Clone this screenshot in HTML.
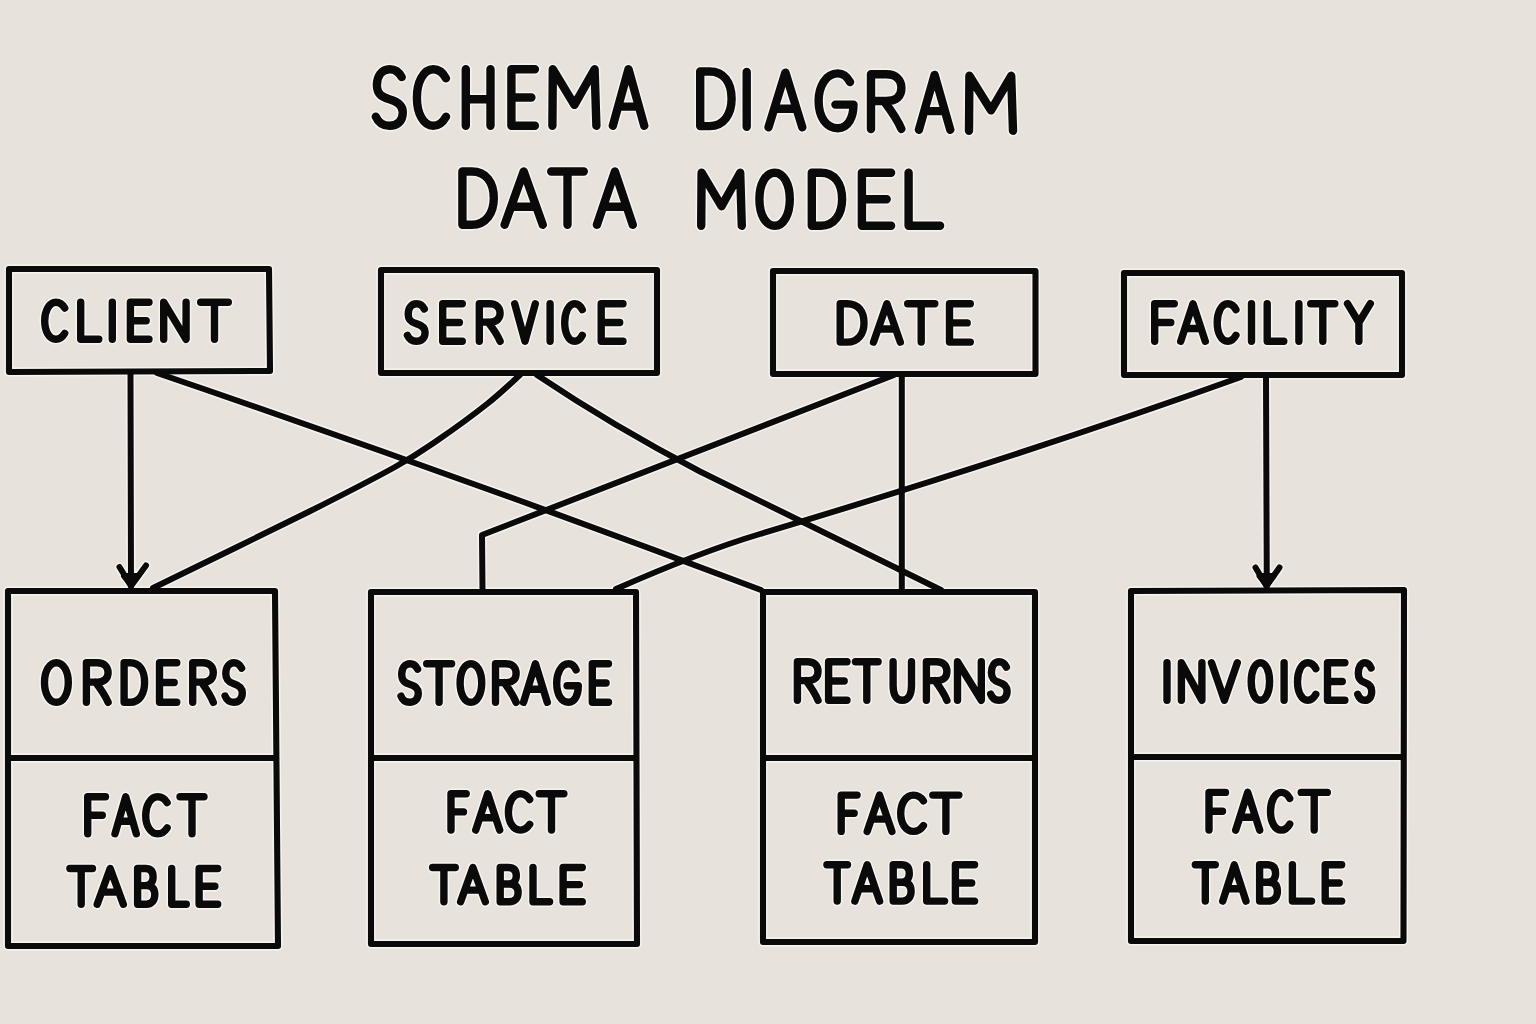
<!DOCTYPE html>
<html><head><meta charset="utf-8">
<style>
html,body{margin:0;padding:0;background:#e7e2db;}
body{width:1536px;height:1024px;overflow:hidden;font-family:"Liberation Sans",sans-serif;}
svg{display:block;}
.g{fill:none;stroke:#0a0a0a;stroke-linejoin:round;stroke-linecap:round;}
.b{fill:none;stroke:#0a0a0a;stroke-width:6;stroke-linejoin:round;stroke-linecap:round;}
.l{fill:none;stroke:#0a0a0a;stroke-width:6;stroke-linejoin:round;stroke-linecap:round;}
</style></head>
<body>
<svg width="1536" height="1024" viewBox="0 0 1536 1024">
<rect width="1536" height="1024" fill="#e7e2db"/>
<g id="halo">
<!-- top boxes -->
<path class="b" style="stroke:#f8f5f0;stroke-width:9.1" d="M9 269 L269 269 L270 371 L9 372 Z"/>
<path class="b" style="stroke:#f8f5f0;stroke-width:9.1" d="M381 270 L657 270 L657 373 L381 373 Z"/>
<path class="b" style="stroke:#f8f5f0;stroke-width:9.1" d="M773 271 L1035.5 271 L1035.5 374 L773 374 Z"/>
<path class="b" style="stroke:#f8f5f0;stroke-width:9.1" d="M1124 273 L1402 273 L1402 375 L1124 375 Z"/>
<!-- bottom boxes -->
<path class="b" style="stroke:#f8f5f0;stroke-width:9.1" d="M8 591 L275 591 L278 946 L8 946 Z M8 758 L275 758"/>
<path class="b" style="stroke:#f8f5f0;stroke-width:9.1" d="M371 592 L636 592 L637 944 L371 944 Z M371 758 L636.5 758"/>
<path class="b" style="stroke:#f8f5f0;stroke-width:9.1" d="M763 592 L1035 592 L1035 942 L763 942 Z M763 758 L1035 758"/>
<path class="b" style="stroke:#f8f5f0;stroke-width:9.1" d="M1131 591 L1404 590 L1403.5 941 L1131 941 Z M1131 757 L1403.5 757"/>
<!-- connectors -->
<path class="l" style="stroke:#f8f5f0;stroke-width:9" d="M130.5 375 L131 586"/>
<path class="l" style="stroke:#f8f5f0;stroke-width:9" d="M119.5 567 L131 586 L146 565.5"/>
<path class="l" style="stroke:#f8f5f0;stroke-width:9" d="M124 576 L138 576 L131 585 Z"/>
<path class="l" style="stroke:#f8f5f0;stroke-width:9" d="M157 373 Q459 476 761 590"/>
<path class="l" style="stroke:#f8f5f0;stroke-width:9" d="M520.0 375.0 C514.5 379.8 500.6 393.2 487.0 404.0 C473.4 414.8 453.9 429.0 438.6 439.5 C423.3 450.0 416.6 455.0 395.0 467.0 C373.4 479.0 349.6 491.3 309.3 511.5 C269.0 531.7 179.1 575.2 153.0 588.0"/>
<path class="l" style="stroke:#f8f5f0;stroke-width:9" d="M537 375 Q613 426 700 471.5 L941 590"/>
<path class="l" style="stroke:#f8f5f0;stroke-width:9" d="M894 375 L482 535 L482.5 591"/>
<path class="l" style="stroke:#f8f5f0;stroke-width:9" d="M901.8 375 L901.8 590"/>
<path class="l" style="stroke:#f8f5f0;stroke-width:9" d="M1241 377 Q1029.3 453.2 760 534 Q700 552 616 589"/>
<path class="l" style="stroke:#f8f5f0;stroke-width:9" d="M1266 378 L1266.8 586"/>
<path class="l" style="stroke:#f8f5f0;stroke-width:9" d="M1255.5 567.5 L1266.5 586 L1279.5 567.5"/>
<path class="l" style="stroke:#f8f5f0;stroke-width:9" d="M1259.5 576 L1273.5 576 L1266.5 585 Z"/>

<path class="g" style="stroke:#f8f5f0;stroke-width:11.4" d="M 401.7,77.1 C 398.5,70.9 394.7,69.2 389.8,69.2 C 381.7,69.2 376.9,76.0 376.9,85.0 C 376.9,95.2 383.4,97.5 389.3,99.2 C 397.4,101.5 402.8,105.4 402.8,112.2 C 402.8,121.3 397.4,125.8 389.3,125.8 C 383.4,125.8 378.5,123.0 375.8,116.7 M 446.0,78.3 C 442.5,71.5 437.9,69.2 433.2,69.2 C 423.3,69.2 416.9,82.8 416.9,97.5 C 416.9,113.3 423.3,125.8 433.2,125.8 C 438.4,125.8 442.5,123.0 446.0,116.7 M 465.8,69.2 L 465.8,125.8 M 490.5,69.2 L 490.5,125.8 M 465.8,99.2 L 490.5,99.2 M 534.9,69.2 L 511.4,69.2 L 511.4,125.8 L 534.9,125.8 M 511.4,97.5 L 531.4,97.5 M 552.4,125.8 L 552.8,69.2 L 574.4,104.9 L 594.6,69.2 L 596.4,125.8 M 612.8,125.8 L 628.5,69.2 L 644.3,125.8 M 619.1,106.6 L 638.0,106.6"/>
<path class="g" style="stroke:#f8f5f0;stroke-width:11.4" d="M 700.2,71.5 L 700.2,126.1 L 709.6,126.1 C 723.8,126.1 731.6,114.1 731.6,98.8 C 731.6,82.4 723.8,71.5 709.6,71.5 L 700.2,71.5 M 746.7,72.0 L 746.7,126.7 M 768.5,127.3 L 785.4,72.6 L 802.3,127.3 M 775.3,108.7 L 795.5,108.7 M 850.0,82.1 C 846.5,75.6 842.3,73.4 837.8,73.4 C 825.6,73.4 818.6,87.1 818.6,100.8 C 818.6,117.2 826.3,128.2 837.8,128.2 C 848.3,128.2 853.5,117.2 853.5,104.6 L 835.4,104.6 M 871.0,129.0 L 871.0,74.2 L 886.2,74.2 C 896.8,74.2 901.4,80.7 901.4,87.9 C 901.4,96.1 896.8,101.0 886.2,101.0 L 871.0,101.0 M 883.8,101.0 C 889.2,108.2 896.8,118.0 901.4,129.0 M 918.9,129.8 L 934.6,74.9 L 950.3,129.8 M 925.2,111.1 L 944.0,111.1 M 969.0,130.8 L 969.4,75.8 L 991.0,110.4 L 1011.2,75.8 L 1013.0,130.8"/>
<path class="g" style="stroke:#f8f5f0;stroke-width:11.4" d="M 462.4,171.5 L 462.4,224.8 L 471.8,224.8 C 485.9,224.8 493.8,213.1 493.8,198.2 C 493.8,182.2 485.9,171.5 471.8,171.5 L 462.4,171.5 M 504.6,224.8 L 523.7,171.5 L 542.8,224.8 M 512.2,206.7 L 535.2,206.7 M 551.2,171.5 L 583.8,171.5 M 567.5,171.5 L 567.5,224.8 M 596.9,224.8 L 614.9,171.5 L 632.8,224.8 M 604.1,206.7 L 625.6,206.7"/>
<path class="g" style="stroke:#f8f5f0;stroke-width:11.4" d="M 701.2,225.8 L 701.6,172.7 L 721.5,206.2 L 740.2,172.7 L 741.8,225.8 M 774.6,172.7 C 783.7,172.7 789.8,184.4 789.8,199.2 C 789.8,214.1 783.7,225.8 774.6,225.8 C 765.5,225.8 759.4,214.1 759.4,199.2 C 759.4,184.4 765.5,172.7 774.6,172.7 Z M 811.8,172.7 L 811.8,225.8 L 820.9,225.8 C 834.5,225.8 842.1,214.1 842.1,199.2 C 842.1,183.3 834.5,172.7 820.9,172.7 L 811.8,172.7 M 891.1,172.7 L 861.9,172.7 L 861.9,225.8 L 891.1,225.8 M 861.9,199.2 L 886.7,199.2 M 908.6,172.7 L 908.6,225.8 L 940.1,225.8"/>
<path class="g" style="stroke:#f8f5f0;stroke-width:10.4" d="M 64.7,308.1 C 62.3,303.7 59.1,302.2 55.9,302.2 C 49.1,302.2 44.7,311.1 44.7,320.8 C 44.7,331.1 49.1,339.3 55.9,339.3 C 59.5,339.3 62.3,337.4 64.7,333.4 M 80.7,302.2 L 80.7,339.3 L 98.8,339.3 M 112.3,302.2 L 112.3,339.3 M 149.0,302.2 L 130.4,302.2 L 130.4,339.3 L 149.0,339.3 M 130.4,320.8 L 146.2,320.8 M 163.7,339.3 L 163.7,302.2 L 186.1,339.3 L 186.1,302.2 M 200.7,302.2 L 228.3,302.2 M 214.5,302.2 L 214.5,339.3"/>
<path class="g" style="stroke:#f8f5f0;stroke-width:10.4" d="M 424.3,309.0 C 422.2,304.8 419.8,303.7 416.6,303.7 C 411.3,303.7 408.2,308.2 408.2,314.2 C 408.2,321.0 412.4,322.5 416.2,323.6 C 421.5,325.1 425.1,327.8 425.1,332.3 C 425.1,338.3 421.5,341.3 416.2,341.3 C 412.4,341.3 409.2,339.4 407.4,335.3 M 462.3,303.7 L 442.7,303.7 L 442.7,341.3 L 462.3,341.3 M 442.7,322.5 L 459.4,322.5 M 479.3,341.3 L 479.3,303.7 L 489.7,303.7 C 496.9,303.7 500.1,308.2 500.1,313.1 C 500.1,318.7 496.9,322.1 489.7,322.1 L 479.3,322.1 M 488.0,322.1 C 491.8,327.0 496.9,333.8 500.1,341.3 M 514.7,303.7 L 525.0,341.3 L 535.3,303.7 M 550.1,303.7 L 550.1,341.3 M 582.3,309.7 C 580.2,305.2 577.4,303.7 574.6,303.7 C 568.6,303.7 564.7,312.7 564.7,322.5 C 564.7,333.0 568.6,341.3 574.6,341.3 C 577.7,341.3 580.2,339.4 582.3,335.3 M 623.0,303.7 L 601.2,303.7 L 601.2,341.3 L 623.0,341.3 M 601.2,322.5 L 619.7,322.5"/>
<path class="g" style="stroke:#f8f5f0;stroke-width:10.4" d="M 840.2,303.7 L 840.2,342.1 L 847.3,342.1 C 858.0,342.1 864.0,333.7 864.0,322.9 C 864.0,311.4 858.0,303.7 847.3,303.7 L 840.2,303.7 M 873.5,342.1 L 886.9,303.7 L 900.3,342.1 M 878.9,329.0 L 894.9,329.0 M 907.7,303.7 L 934.8,303.7 M 921.2,303.7 L 921.2,342.1 M 970.3,303.7 L 949.5,303.7 L 949.5,342.1 L 970.3,342.1 M 949.5,322.9 L 967.2,322.9"/>
<path class="g" style="stroke:#f8f5f0;stroke-width:10.4" d="M 1174.3,303.7 L 1154.7,303.7 L 1154.7,341.3 M 1154.7,322.5 L 1170.8,322.5 M 1180.7,341.3 L 1193.0,303.7 L 1205.3,341.3 M 1185.6,328.5 L 1200.4,328.5 M 1235.9,309.7 C 1233.7,305.2 1230.7,303.7 1227.7,303.7 C 1221.3,303.7 1217.2,312.7 1217.2,322.5 C 1217.2,333.0 1221.3,341.3 1227.7,341.3 C 1231.0,341.3 1233.7,339.4 1235.9,335.3 M 1251.5,303.7 L 1251.5,341.3 M 1267.2,303.7 L 1267.2,341.3 L 1283.8,341.3 M 1298.9,303.7 L 1298.9,341.3 M 1310.7,303.7 L 1334.8,303.7 M 1322.8,303.7 L 1322.8,341.3 M 1347.5,303.7 L 1358.9,322.5 L 1370.3,303.7 M 1358.9,322.5 L 1358.9,341.3"/>
<path class="g" style="stroke:#f8f5f0;stroke-width:10.4" d="M 56.4,662.7 C 63.5,662.7 68.3,671.4 68.3,682.5 C 68.3,693.6 63.5,702.3 56.4,702.3 C 49.3,702.3 44.5,693.6 44.5,682.5 C 44.5,671.4 49.3,662.7 56.4,662.7 Z M 86.4,702.3 L 86.4,662.7 L 97.2,662.7 C 104.8,662.7 108.1,667.5 108.1,672.6 C 108.1,678.5 104.8,682.1 97.2,682.1 L 86.4,682.1 M 95.5,682.1 C 99.4,687.3 104.8,694.4 108.1,702.3 M 124.1,662.7 L 124.1,702.3 L 130.2,702.3 C 139.5,702.3 144.6,693.6 144.6,682.5 C 144.6,670.6 139.5,662.7 130.2,662.7 L 124.1,662.7 M 176.8,662.7 L 159.5,662.7 L 159.5,702.3 L 176.8,702.3 M 159.5,682.5 L 174.2,682.5 M 192.7,702.3 L 192.7,662.7 L 203.0,662.7 C 210.2,662.7 213.3,667.5 213.3,672.6 C 213.3,678.5 210.2,682.1 203.0,682.1 L 192.7,682.1 M 201.4,682.1 C 205.1,687.3 210.2,694.4 213.3,702.3 M 241.6,668.2 C 239.5,663.9 237.1,662.7 234.0,662.7 C 228.9,662.7 225.8,667.5 225.8,673.8 C 225.8,680.9 229.9,682.5 233.7,683.7 C 238.9,685.3 242.3,688.0 242.3,692.8 C 242.3,699.1 238.9,702.3 233.7,702.3 C 229.9,702.3 226.8,700.3 225.1,696.0"/>
<path class="g" style="stroke:#f8f5f0;stroke-width:10.4" d="M 417.6,669.1 C 415.5,664.9 413.1,663.7 410.0,663.7 C 404.8,663.7 401.7,668.3 401.7,674.5 C 401.7,681.5 405.8,683.0 409.6,684.2 C 414.8,685.7 418.3,688.4 418.3,693.0 C 418.3,699.2 414.8,702.3 409.6,702.3 C 405.8,702.3 402.7,700.4 401.0,696.1 M 426.7,663.7 L 451.6,663.7 M 439.1,663.7 L 439.1,702.3 M 470.9,663.7 C 477.4,663.7 481.7,672.2 481.7,683.0 C 481.7,693.8 477.4,702.3 470.9,702.3 C 464.4,702.3 460.1,693.8 460.1,683.0 C 460.1,672.2 464.4,663.7 470.9,663.7 Z M 495.5,702.3 L 495.5,663.7 L 505.8,663.7 C 513.0,663.7 516.1,668.3 516.1,673.4 C 516.1,679.1 513.0,682.6 505.8,682.6 L 495.5,682.6 M 504.2,682.6 C 507.9,687.6 513.0,694.6 516.1,702.3 M 523.5,702.3 L 535.4,663.7 L 547.3,702.3 M 528.3,689.2 L 542.5,689.2 M 576.1,669.9 C 574.0,665.2 571.4,663.7 568.6,663.7 C 561.0,663.7 556.7,673.4 556.7,683.0 C 556.7,694.6 561.5,702.3 568.6,702.3 C 575.1,702.3 578.3,694.6 578.3,685.7 L 567.1,685.7 M 608.5,663.7 L 592.3,663.7 L 592.3,702.3 L 608.5,702.3 M 592.3,683.0 L 606.1,683.0"/>
<path class="g" style="stroke:#f8f5f0;stroke-width:10.4" d="M 797.4,700.3 L 797.4,661.7 L 807.7,661.7 C 814.9,661.7 818.0,666.3 818.0,671.4 C 818.0,677.1 814.9,680.6 807.7,680.6 L 797.4,680.6 M 806.1,680.6 C 809.8,685.6 814.9,692.6 818.0,700.3 M 847.0,661.7 L 828.6,661.7 L 828.6,700.3 L 847.0,700.3 M 828.6,681.0 L 844.2,681.0 M 855.5,661.7 L 878.1,661.7 M 866.8,661.7 L 866.8,700.3 M 893.1,661.7 L 893.1,685.6 C 893.1,695.7 896.8,700.3 902.3,700.3 C 907.8,700.3 911.5,695.7 911.5,685.6 L 911.5,661.7 M 926.4,700.3 L 926.4,661.7 L 936.7,661.7 C 943.8,661.7 946.9,666.3 946.9,671.4 C 946.9,677.1 943.8,680.6 936.7,680.6 L 926.4,680.6 M 935.0,680.6 C 938.7,685.6 943.8,692.6 946.9,700.3 M 957.5,700.3 L 957.5,661.7 L 981.3,700.3 L 981.3,661.7 M 1006.4,667.1 C 1004.5,662.9 1002.2,661.7 999.2,661.7 C 994.3,661.7 991.4,666.3 991.4,672.5 C 991.4,679.5 995.3,681.0 998.9,682.2 C 1003.8,683.7 1007.1,686.4 1007.1,691.0 C 1007.1,697.2 1003.8,700.3 998.9,700.3 C 995.3,700.3 992.3,698.4 990.7,694.1"/>
<path class="g" style="stroke:#f8f5f0;stroke-width:10.4" d="M 1167.0,662.7 L 1167.0,700.3 M 1181.4,700.3 L 1181.4,662.7 L 1201.9,700.3 L 1201.9,662.7 M 1211.5,662.7 L 1224.4,700.3 L 1237.3,662.7 M 1260.4,662.7 C 1265.9,662.7 1269.6,671.0 1269.6,681.5 C 1269.6,692.0 1265.9,700.3 1260.4,700.3 C 1254.9,700.3 1251.2,692.0 1251.2,681.5 C 1251.2,671.0 1254.9,662.7 1260.4,662.7 Z M 1284.1,662.7 L 1284.1,700.3 M 1315.8,668.7 C 1313.6,664.2 1310.7,662.7 1307.7,662.7 C 1301.5,662.7 1297.5,671.7 1297.5,681.5 C 1297.5,692.0 1301.5,700.3 1307.7,700.3 C 1311.0,700.3 1313.6,698.4 1315.8,694.3 M 1344.9,662.7 L 1327.5,662.7 L 1327.5,700.3 L 1344.9,700.3 M 1327.5,681.5 L 1342.3,681.5 M 1371.1,668.0 C 1369.5,663.8 1367.5,662.7 1365.0,662.7 C 1360.8,662.7 1358.3,667.2 1358.3,673.2 C 1358.3,680.0 1361.6,681.5 1364.7,682.6 C 1368.9,684.1 1371.7,686.8 1371.7,691.3 C 1371.7,697.3 1368.9,700.3 1364.7,700.3 C 1361.6,700.3 1359.1,698.4 1357.7,694.3"/>
<path class="g" style="stroke:#f8f5f0;stroke-width:10.4" d="M 105.5,796.7 L 87.7,796.7 L 87.7,833.8 M 87.7,815.2 L 102.3,815.2 M 115.0,833.8 L 125.7,796.7 L 136.3,833.8 M 119.3,821.2 L 132.0,821.2 M 167.1,802.6 C 164.5,798.2 161.1,796.7 157.7,796.7 C 150.4,796.7 145.7,805.6 145.7,815.2 C 145.7,825.6 150.4,833.8 157.7,833.8 C 161.5,833.8 164.5,831.9 167.1,827.9 M 180.0,796.7 L 204.0,796.7 M 192.0,796.7 L 192.0,833.8"/>
<path class="g" style="stroke:#f8f5f0;stroke-width:10.4" d="M 69.9,868.5 L 92.5,868.5 M 81.2,868.5 L 81.2,904.2 M 97.2,904.2 L 110.2,868.5 L 123.3,904.2 M 102.4,892.1 L 118.1,892.1 M 137.6,868.5 L 137.6,904.2 L 146.2,904.2 C 152.2,904.2 154.8,899.9 154.8,894.6 C 154.8,888.8 152.2,885.6 146.2,885.6 L 137.6,885.6 M 145.3,885.6 C 150.5,885.6 153.1,882.1 153.1,877.1 C 153.1,871.4 150.5,868.5 145.3,868.5 L 137.6,868.5 M 171.7,868.5 L 171.7,904.2 L 186.3,904.2 M 217.7,868.5 L 199.1,868.5 L 199.1,904.2 L 217.7,904.2 M 199.1,886.3 L 214.9,886.3"/>
<path class="g" style="stroke:#f8f5f0;stroke-width:10.4" d="M 466.2,793.7 L 451.0,793.7 L 451.0,830.1 M 451.0,811.9 L 463.5,811.9 M 475.7,830.1 L 487.7,793.7 L 499.7,830.1 M 480.5,817.7 L 494.9,817.7 M 529.7,799.5 C 527.1,795.2 523.7,793.7 520.3,793.7 C 513.1,793.7 508.4,802.4 508.4,811.9 C 508.4,822.1 513.1,830.1 520.3,830.1 C 524.2,830.1 527.1,828.3 529.7,824.3 M 539.2,793.7 L 563.9,793.7 M 551.5,793.7 L 551.5,830.1"/>
<path class="g" style="stroke:#f8f5f0;stroke-width:10.4" d="M 432.6,867.5 L 455.3,867.5 M 443.9,867.5 L 443.9,901.8 M 460.6,901.8 L 472.9,867.5 L 485.3,901.8 M 465.5,890.1 L 480.4,890.1 M 500.2,867.5 L 500.2,901.8 L 509.1,901.8 C 515.4,901.8 518.1,897.7 518.1,892.5 C 518.1,887.1 515.4,884.0 509.1,884.0 L 500.2,884.0 M 508.3,884.0 C 513.6,884.0 516.3,880.5 516.3,875.7 C 516.3,870.2 513.6,867.5 508.3,867.5 L 500.2,867.5 M 533.0,867.5 L 533.0,901.8 L 549.6,901.8 M 582.3,867.5 L 563.1,867.5 L 563.1,901.8 L 582.3,901.8 M 563.1,884.6 L 579.4,884.6"/>
<path class="g" style="stroke:#f8f5f0;stroke-width:10.4" d="M 857.1,795.1 L 841.2,795.1 L 841.2,831.4 M 841.2,813.2 L 854.2,813.2 M 867.2,831.4 L 879.5,795.1 L 891.9,831.4 M 872.1,819.1 L 887.0,819.1 M 923.4,800.9 C 920.7,796.6 917.0,795.1 913.4,795.1 C 905.7,795.1 900.7,803.8 900.7,813.2 C 900.7,823.4 905.7,831.4 913.4,831.4 C 917.5,831.4 920.7,829.6 923.4,825.6 M 932.8,795.1 L 958.9,795.1 M 945.9,795.1 L 945.9,831.4"/>
<path class="g" style="stroke:#f8f5f0;stroke-width:10.4" d="M 826.9,864.8 L 847.5,864.8 M 837.2,864.8 L 837.2,901.1 M 854.9,901.1 L 867.2,864.8 L 879.6,901.1 M 859.8,888.8 L 874.7,888.8 M 893.2,864.8 L 893.2,901.1 L 902.1,901.1 C 908.4,901.1 911.1,896.7 911.1,891.3 C 911.1,885.5 908.4,882.2 902.1,882.2 L 893.2,882.2 M 901.3,882.2 C 906.6,882.2 909.3,878.6 909.3,873.5 C 909.3,867.7 906.6,864.8 901.3,864.8 L 893.2,864.8 M 926.7,864.8 L 926.7,901.1 L 944.6,901.1 M 974.6,864.8 L 955.4,864.8 L 955.4,901.1 L 974.6,901.1 M 955.4,883.0 L 971.7,883.0"/>
<path class="g" style="stroke:#f8f5f0;stroke-width:10.4" d="M 1225.5,792.4 L 1209.0,792.4 L 1209.0,830.1 M 1209.0,811.2 L 1222.5,811.2 M 1235.7,830.1 L 1247.7,792.4 L 1259.7,830.1 M 1240.5,817.3 L 1254.9,817.3 M 1289.7,798.4 C 1287.4,793.9 1284.3,792.4 1281.3,792.4 C 1274.7,792.4 1270.5,801.4 1270.5,811.2 C 1270.5,821.8 1274.7,830.1 1281.3,830.1 C 1284.7,830.1 1287.4,828.2 1289.7,824.1 M 1301.2,792.4 L 1327.3,792.4 M 1314.2,792.4 L 1314.2,830.1"/>
<path class="g" style="stroke:#f8f5f0;stroke-width:10.4" d="M 1195.3,864.8 L 1215.3,864.8 M 1205.3,864.8 L 1205.3,901.1 M 1222.7,901.1 L 1234.3,864.8 L 1246.0,901.1 M 1227.4,888.8 L 1241.3,888.8 M 1259.6,864.8 L 1259.6,901.1 L 1268.5,901.1 C 1274.7,901.1 1277.4,896.7 1277.4,891.3 C 1277.4,885.5 1274.7,882.2 1268.5,882.2 L 1259.6,882.2 M 1267.6,882.2 C 1272.9,882.2 1275.6,878.6 1275.6,873.5 C 1275.6,867.7 1272.9,864.8 1267.6,864.8 L 1259.6,864.8 M 1292.4,864.8 L 1292.4,901.1 L 1311.6,901.1 M 1341.7,864.8 L 1325.2,864.8 L 1325.2,901.1 L 1341.7,901.1 M 1325.2,883.0 L 1339.2,883.0"/>
</g>
<g id="main">
<!-- top boxes -->
<path class="b" style="stroke:#0a0a0a;stroke-width:6.1" d="M9 269 L269 269 L270 371 L9 372 Z"/>
<path class="b" style="stroke:#0a0a0a;stroke-width:6.1" d="M381 270 L657 270 L657 373 L381 373 Z"/>
<path class="b" style="stroke:#0a0a0a;stroke-width:6.1" d="M773 271 L1035.5 271 L1035.5 374 L773 374 Z"/>
<path class="b" style="stroke:#0a0a0a;stroke-width:6.1" d="M1124 273 L1402 273 L1402 375 L1124 375 Z"/>
<!-- bottom boxes -->
<path class="b" style="stroke:#0a0a0a;stroke-width:6.1" d="M8 591 L275 591 L278 946 L8 946 Z M8 758 L275 758"/>
<path class="b" style="stroke:#0a0a0a;stroke-width:6.1" d="M371 592 L636 592 L637 944 L371 944 Z M371 758 L636.5 758"/>
<path class="b" style="stroke:#0a0a0a;stroke-width:6.1" d="M763 592 L1035 592 L1035 942 L763 942 Z M763 758 L1035 758"/>
<path class="b" style="stroke:#0a0a0a;stroke-width:6.1" d="M1131 591 L1404 590 L1403.5 941 L1131 941 Z M1131 757 L1403.5 757"/>
<!-- connectors -->
<path class="l" style="stroke:#0a0a0a;stroke-width:6" d="M130.5 375 L131 586"/>
<path class="l" style="stroke:#0a0a0a;stroke-width:6" d="M119.5 567 L131 586 L146 565.5"/>
<path class="l" style="stroke:#0a0a0a;stroke-width:6" d="M124 576 L138 576 L131 585 Z"/>
<path class="l" style="stroke:#0a0a0a;stroke-width:6" d="M157 373 Q459 476 761 590"/>
<path class="l" style="stroke:#0a0a0a;stroke-width:6" d="M520.0 375.0 C514.5 379.8 500.6 393.2 487.0 404.0 C473.4 414.8 453.9 429.0 438.6 439.5 C423.3 450.0 416.6 455.0 395.0 467.0 C373.4 479.0 349.6 491.3 309.3 511.5 C269.0 531.7 179.1 575.2 153.0 588.0"/>
<path class="l" style="stroke:#0a0a0a;stroke-width:6" d="M537 375 Q613 426 700 471.5 L941 590"/>
<path class="l" style="stroke:#0a0a0a;stroke-width:6" d="M894 375 L482 535 L482.5 591"/>
<path class="l" style="stroke:#0a0a0a;stroke-width:6" d="M901.8 375 L901.8 590"/>
<path class="l" style="stroke:#0a0a0a;stroke-width:6" d="M1241 377 Q1029.3 453.2 760 534 Q700 552 616 589"/>
<path class="l" style="stroke:#0a0a0a;stroke-width:6" d="M1266 378 L1266.8 586"/>
<path class="l" style="stroke:#0a0a0a;stroke-width:6" d="M1255.5 567.5 L1266.5 586 L1279.5 567.5"/>
<path class="l" style="stroke:#0a0a0a;stroke-width:6" d="M1259.5 576 L1273.5 576 L1266.5 585 Z"/>

<path class="g" style="stroke-width:8.4" d="M 401.7,77.1 C 398.5,70.9 394.7,69.2 389.8,69.2 C 381.7,69.2 376.9,76.0 376.9,85.0 C 376.9,95.2 383.4,97.5 389.3,99.2 C 397.4,101.5 402.8,105.4 402.8,112.2 C 402.8,121.3 397.4,125.8 389.3,125.8 C 383.4,125.8 378.5,123.0 375.8,116.7 M 446.0,78.3 C 442.5,71.5 437.9,69.2 433.2,69.2 C 423.3,69.2 416.9,82.8 416.9,97.5 C 416.9,113.3 423.3,125.8 433.2,125.8 C 438.4,125.8 442.5,123.0 446.0,116.7 M 465.8,69.2 L 465.8,125.8 M 490.5,69.2 L 490.5,125.8 M 465.8,99.2 L 490.5,99.2 M 534.9,69.2 L 511.4,69.2 L 511.4,125.8 L 534.9,125.8 M 511.4,97.5 L 531.4,97.5 M 552.4,125.8 L 552.8,69.2 L 574.4,104.9 L 594.6,69.2 L 596.4,125.8 M 612.8,125.8 L 628.5,69.2 L 644.3,125.8 M 619.1,106.6 L 638.0,106.6"/>
<path class="g" style="stroke-width:8.4" d="M 700.2,71.5 L 700.2,126.1 L 709.6,126.1 C 723.8,126.1 731.6,114.1 731.6,98.8 C 731.6,82.4 723.8,71.5 709.6,71.5 L 700.2,71.5 M 746.7,72.0 L 746.7,126.7 M 768.5,127.3 L 785.4,72.6 L 802.3,127.3 M 775.3,108.7 L 795.5,108.7 M 850.0,82.1 C 846.5,75.6 842.3,73.4 837.8,73.4 C 825.6,73.4 818.6,87.1 818.6,100.8 C 818.6,117.2 826.3,128.2 837.8,128.2 C 848.3,128.2 853.5,117.2 853.5,104.6 L 835.4,104.6 M 871.0,129.0 L 871.0,74.2 L 886.2,74.2 C 896.8,74.2 901.4,80.7 901.4,87.9 C 901.4,96.1 896.8,101.0 886.2,101.0 L 871.0,101.0 M 883.8,101.0 C 889.2,108.2 896.8,118.0 901.4,129.0 M 918.9,129.8 L 934.6,74.9 L 950.3,129.8 M 925.2,111.1 L 944.0,111.1 M 969.0,130.8 L 969.4,75.8 L 991.0,110.4 L 1011.2,75.8 L 1013.0,130.8"/>
<path class="g" style="stroke-width:8.4" d="M 462.4,171.5 L 462.4,224.8 L 471.8,224.8 C 485.9,224.8 493.8,213.1 493.8,198.2 C 493.8,182.2 485.9,171.5 471.8,171.5 L 462.4,171.5 M 504.6,224.8 L 523.7,171.5 L 542.8,224.8 M 512.2,206.7 L 535.2,206.7 M 551.2,171.5 L 583.8,171.5 M 567.5,171.5 L 567.5,224.8 M 596.9,224.8 L 614.9,171.5 L 632.8,224.8 M 604.1,206.7 L 625.6,206.7"/>
<path class="g" style="stroke-width:8.4" d="M 701.2,225.8 L 701.6,172.7 L 721.5,206.2 L 740.2,172.7 L 741.8,225.8 M 774.6,172.7 C 783.7,172.7 789.8,184.4 789.8,199.2 C 789.8,214.1 783.7,225.8 774.6,225.8 C 765.5,225.8 759.4,214.1 759.4,199.2 C 759.4,184.4 765.5,172.7 774.6,172.7 Z M 811.8,172.7 L 811.8,225.8 L 820.9,225.8 C 834.5,225.8 842.1,214.1 842.1,199.2 C 842.1,183.3 834.5,172.7 820.9,172.7 L 811.8,172.7 M 891.1,172.7 L 861.9,172.7 L 861.9,225.8 L 891.1,225.8 M 861.9,199.2 L 886.7,199.2 M 908.6,172.7 L 908.6,225.8 L 940.1,225.8"/>
<path class="g" style="stroke-width:7.4" d="M 64.7,308.1 C 62.3,303.7 59.1,302.2 55.9,302.2 C 49.1,302.2 44.7,311.1 44.7,320.8 C 44.7,331.1 49.1,339.3 55.9,339.3 C 59.5,339.3 62.3,337.4 64.7,333.4 M 80.7,302.2 L 80.7,339.3 L 98.8,339.3 M 112.3,302.2 L 112.3,339.3 M 149.0,302.2 L 130.4,302.2 L 130.4,339.3 L 149.0,339.3 M 130.4,320.8 L 146.2,320.8 M 163.7,339.3 L 163.7,302.2 L 186.1,339.3 L 186.1,302.2 M 200.7,302.2 L 228.3,302.2 M 214.5,302.2 L 214.5,339.3"/>
<path class="g" style="stroke-width:7.4" d="M 424.3,309.0 C 422.2,304.8 419.8,303.7 416.6,303.7 C 411.3,303.7 408.2,308.2 408.2,314.2 C 408.2,321.0 412.4,322.5 416.2,323.6 C 421.5,325.1 425.1,327.8 425.1,332.3 C 425.1,338.3 421.5,341.3 416.2,341.3 C 412.4,341.3 409.2,339.4 407.4,335.3 M 462.3,303.7 L 442.7,303.7 L 442.7,341.3 L 462.3,341.3 M 442.7,322.5 L 459.4,322.5 M 479.3,341.3 L 479.3,303.7 L 489.7,303.7 C 496.9,303.7 500.1,308.2 500.1,313.1 C 500.1,318.7 496.9,322.1 489.7,322.1 L 479.3,322.1 M 488.0,322.1 C 491.8,327.0 496.9,333.8 500.1,341.3 M 514.7,303.7 L 525.0,341.3 L 535.3,303.7 M 550.1,303.7 L 550.1,341.3 M 582.3,309.7 C 580.2,305.2 577.4,303.7 574.6,303.7 C 568.6,303.7 564.7,312.7 564.7,322.5 C 564.7,333.0 568.6,341.3 574.6,341.3 C 577.7,341.3 580.2,339.4 582.3,335.3 M 623.0,303.7 L 601.2,303.7 L 601.2,341.3 L 623.0,341.3 M 601.2,322.5 L 619.7,322.5"/>
<path class="g" style="stroke-width:7.4" d="M 840.2,303.7 L 840.2,342.1 L 847.3,342.1 C 858.0,342.1 864.0,333.7 864.0,322.9 C 864.0,311.4 858.0,303.7 847.3,303.7 L 840.2,303.7 M 873.5,342.1 L 886.9,303.7 L 900.3,342.1 M 878.9,329.0 L 894.9,329.0 M 907.7,303.7 L 934.8,303.7 M 921.2,303.7 L 921.2,342.1 M 970.3,303.7 L 949.5,303.7 L 949.5,342.1 L 970.3,342.1 M 949.5,322.9 L 967.2,322.9"/>
<path class="g" style="stroke-width:7.4" d="M 1174.3,303.7 L 1154.7,303.7 L 1154.7,341.3 M 1154.7,322.5 L 1170.8,322.5 M 1180.7,341.3 L 1193.0,303.7 L 1205.3,341.3 M 1185.6,328.5 L 1200.4,328.5 M 1235.9,309.7 C 1233.7,305.2 1230.7,303.7 1227.7,303.7 C 1221.3,303.7 1217.2,312.7 1217.2,322.5 C 1217.2,333.0 1221.3,341.3 1227.7,341.3 C 1231.0,341.3 1233.7,339.4 1235.9,335.3 M 1251.5,303.7 L 1251.5,341.3 M 1267.2,303.7 L 1267.2,341.3 L 1283.8,341.3 M 1298.9,303.7 L 1298.9,341.3 M 1310.7,303.7 L 1334.8,303.7 M 1322.8,303.7 L 1322.8,341.3 M 1347.5,303.7 L 1358.9,322.5 L 1370.3,303.7 M 1358.9,322.5 L 1358.9,341.3"/>
<path class="g" style="stroke-width:7.4" d="M 56.4,662.7 C 63.5,662.7 68.3,671.4 68.3,682.5 C 68.3,693.6 63.5,702.3 56.4,702.3 C 49.3,702.3 44.5,693.6 44.5,682.5 C 44.5,671.4 49.3,662.7 56.4,662.7 Z M 86.4,702.3 L 86.4,662.7 L 97.2,662.7 C 104.8,662.7 108.1,667.5 108.1,672.6 C 108.1,678.5 104.8,682.1 97.2,682.1 L 86.4,682.1 M 95.5,682.1 C 99.4,687.3 104.8,694.4 108.1,702.3 M 124.1,662.7 L 124.1,702.3 L 130.2,702.3 C 139.5,702.3 144.6,693.6 144.6,682.5 C 144.6,670.6 139.5,662.7 130.2,662.7 L 124.1,662.7 M 176.8,662.7 L 159.5,662.7 L 159.5,702.3 L 176.8,702.3 M 159.5,682.5 L 174.2,682.5 M 192.7,702.3 L 192.7,662.7 L 203.0,662.7 C 210.2,662.7 213.3,667.5 213.3,672.6 C 213.3,678.5 210.2,682.1 203.0,682.1 L 192.7,682.1 M 201.4,682.1 C 205.1,687.3 210.2,694.4 213.3,702.3 M 241.6,668.2 C 239.5,663.9 237.1,662.7 234.0,662.7 C 228.9,662.7 225.8,667.5 225.8,673.8 C 225.8,680.9 229.9,682.5 233.7,683.7 C 238.9,685.3 242.3,688.0 242.3,692.8 C 242.3,699.1 238.9,702.3 233.7,702.3 C 229.9,702.3 226.8,700.3 225.1,696.0"/>
<path class="g" style="stroke-width:7.4" d="M 417.6,669.1 C 415.5,664.9 413.1,663.7 410.0,663.7 C 404.8,663.7 401.7,668.3 401.7,674.5 C 401.7,681.5 405.8,683.0 409.6,684.2 C 414.8,685.7 418.3,688.4 418.3,693.0 C 418.3,699.2 414.8,702.3 409.6,702.3 C 405.8,702.3 402.7,700.4 401.0,696.1 M 426.7,663.7 L 451.6,663.7 M 439.1,663.7 L 439.1,702.3 M 470.9,663.7 C 477.4,663.7 481.7,672.2 481.7,683.0 C 481.7,693.8 477.4,702.3 470.9,702.3 C 464.4,702.3 460.1,693.8 460.1,683.0 C 460.1,672.2 464.4,663.7 470.9,663.7 Z M 495.5,702.3 L 495.5,663.7 L 505.8,663.7 C 513.0,663.7 516.1,668.3 516.1,673.4 C 516.1,679.1 513.0,682.6 505.8,682.6 L 495.5,682.6 M 504.2,682.6 C 507.9,687.6 513.0,694.6 516.1,702.3 M 523.5,702.3 L 535.4,663.7 L 547.3,702.3 M 528.3,689.2 L 542.5,689.2 M 576.1,669.9 C 574.0,665.2 571.4,663.7 568.6,663.7 C 561.0,663.7 556.7,673.4 556.7,683.0 C 556.7,694.6 561.5,702.3 568.6,702.3 C 575.1,702.3 578.3,694.6 578.3,685.7 L 567.1,685.7 M 608.5,663.7 L 592.3,663.7 L 592.3,702.3 L 608.5,702.3 M 592.3,683.0 L 606.1,683.0"/>
<path class="g" style="stroke-width:7.4" d="M 797.4,700.3 L 797.4,661.7 L 807.7,661.7 C 814.9,661.7 818.0,666.3 818.0,671.4 C 818.0,677.1 814.9,680.6 807.7,680.6 L 797.4,680.6 M 806.1,680.6 C 809.8,685.6 814.9,692.6 818.0,700.3 M 847.0,661.7 L 828.6,661.7 L 828.6,700.3 L 847.0,700.3 M 828.6,681.0 L 844.2,681.0 M 855.5,661.7 L 878.1,661.7 M 866.8,661.7 L 866.8,700.3 M 893.1,661.7 L 893.1,685.6 C 893.1,695.7 896.8,700.3 902.3,700.3 C 907.8,700.3 911.5,695.7 911.5,685.6 L 911.5,661.7 M 926.4,700.3 L 926.4,661.7 L 936.7,661.7 C 943.8,661.7 946.9,666.3 946.9,671.4 C 946.9,677.1 943.8,680.6 936.7,680.6 L 926.4,680.6 M 935.0,680.6 C 938.7,685.6 943.8,692.6 946.9,700.3 M 957.5,700.3 L 957.5,661.7 L 981.3,700.3 L 981.3,661.7 M 1006.4,667.1 C 1004.5,662.9 1002.2,661.7 999.2,661.7 C 994.3,661.7 991.4,666.3 991.4,672.5 C 991.4,679.5 995.3,681.0 998.9,682.2 C 1003.8,683.7 1007.1,686.4 1007.1,691.0 C 1007.1,697.2 1003.8,700.3 998.9,700.3 C 995.3,700.3 992.3,698.4 990.7,694.1"/>
<path class="g" style="stroke-width:7.4" d="M 1167.0,662.7 L 1167.0,700.3 M 1181.4,700.3 L 1181.4,662.7 L 1201.9,700.3 L 1201.9,662.7 M 1211.5,662.7 L 1224.4,700.3 L 1237.3,662.7 M 1260.4,662.7 C 1265.9,662.7 1269.6,671.0 1269.6,681.5 C 1269.6,692.0 1265.9,700.3 1260.4,700.3 C 1254.9,700.3 1251.2,692.0 1251.2,681.5 C 1251.2,671.0 1254.9,662.7 1260.4,662.7 Z M 1284.1,662.7 L 1284.1,700.3 M 1315.8,668.7 C 1313.6,664.2 1310.7,662.7 1307.7,662.7 C 1301.5,662.7 1297.5,671.7 1297.5,681.5 C 1297.5,692.0 1301.5,700.3 1307.7,700.3 C 1311.0,700.3 1313.6,698.4 1315.8,694.3 M 1344.9,662.7 L 1327.5,662.7 L 1327.5,700.3 L 1344.9,700.3 M 1327.5,681.5 L 1342.3,681.5 M 1371.1,668.0 C 1369.5,663.8 1367.5,662.7 1365.0,662.7 C 1360.8,662.7 1358.3,667.2 1358.3,673.2 C 1358.3,680.0 1361.6,681.5 1364.7,682.6 C 1368.9,684.1 1371.7,686.8 1371.7,691.3 C 1371.7,697.3 1368.9,700.3 1364.7,700.3 C 1361.6,700.3 1359.1,698.4 1357.7,694.3"/>
<path class="g" style="stroke-width:7.4" d="M 105.5,796.7 L 87.7,796.7 L 87.7,833.8 M 87.7,815.2 L 102.3,815.2 M 115.0,833.8 L 125.7,796.7 L 136.3,833.8 M 119.3,821.2 L 132.0,821.2 M 167.1,802.6 C 164.5,798.2 161.1,796.7 157.7,796.7 C 150.4,796.7 145.7,805.6 145.7,815.2 C 145.7,825.6 150.4,833.8 157.7,833.8 C 161.5,833.8 164.5,831.9 167.1,827.9 M 180.0,796.7 L 204.0,796.7 M 192.0,796.7 L 192.0,833.8"/>
<path class="g" style="stroke-width:7.4" d="M 69.9,868.5 L 92.5,868.5 M 81.2,868.5 L 81.2,904.2 M 97.2,904.2 L 110.2,868.5 L 123.3,904.2 M 102.4,892.1 L 118.1,892.1 M 137.6,868.5 L 137.6,904.2 L 146.2,904.2 C 152.2,904.2 154.8,899.9 154.8,894.6 C 154.8,888.8 152.2,885.6 146.2,885.6 L 137.6,885.6 M 145.3,885.6 C 150.5,885.6 153.1,882.1 153.1,877.1 C 153.1,871.4 150.5,868.5 145.3,868.5 L 137.6,868.5 M 171.7,868.5 L 171.7,904.2 L 186.3,904.2 M 217.7,868.5 L 199.1,868.5 L 199.1,904.2 L 217.7,904.2 M 199.1,886.3 L 214.9,886.3"/>
<path class="g" style="stroke-width:7.4" d="M 466.2,793.7 L 451.0,793.7 L 451.0,830.1 M 451.0,811.9 L 463.5,811.9 M 475.7,830.1 L 487.7,793.7 L 499.7,830.1 M 480.5,817.7 L 494.9,817.7 M 529.7,799.5 C 527.1,795.2 523.7,793.7 520.3,793.7 C 513.1,793.7 508.4,802.4 508.4,811.9 C 508.4,822.1 513.1,830.1 520.3,830.1 C 524.2,830.1 527.1,828.3 529.7,824.3 M 539.2,793.7 L 563.9,793.7 M 551.5,793.7 L 551.5,830.1"/>
<path class="g" style="stroke-width:7.4" d="M 432.6,867.5 L 455.3,867.5 M 443.9,867.5 L 443.9,901.8 M 460.6,901.8 L 472.9,867.5 L 485.3,901.8 M 465.5,890.1 L 480.4,890.1 M 500.2,867.5 L 500.2,901.8 L 509.1,901.8 C 515.4,901.8 518.1,897.7 518.1,892.5 C 518.1,887.1 515.4,884.0 509.1,884.0 L 500.2,884.0 M 508.3,884.0 C 513.6,884.0 516.3,880.5 516.3,875.7 C 516.3,870.2 513.6,867.5 508.3,867.5 L 500.2,867.5 M 533.0,867.5 L 533.0,901.8 L 549.6,901.8 M 582.3,867.5 L 563.1,867.5 L 563.1,901.8 L 582.3,901.8 M 563.1,884.6 L 579.4,884.6"/>
<path class="g" style="stroke-width:7.4" d="M 857.1,795.1 L 841.2,795.1 L 841.2,831.4 M 841.2,813.2 L 854.2,813.2 M 867.2,831.4 L 879.5,795.1 L 891.9,831.4 M 872.1,819.1 L 887.0,819.1 M 923.4,800.9 C 920.7,796.6 917.0,795.1 913.4,795.1 C 905.7,795.1 900.7,803.8 900.7,813.2 C 900.7,823.4 905.7,831.4 913.4,831.4 C 917.5,831.4 920.7,829.6 923.4,825.6 M 932.8,795.1 L 958.9,795.1 M 945.9,795.1 L 945.9,831.4"/>
<path class="g" style="stroke-width:7.4" d="M 826.9,864.8 L 847.5,864.8 M 837.2,864.8 L 837.2,901.1 M 854.9,901.1 L 867.2,864.8 L 879.6,901.1 M 859.8,888.8 L 874.7,888.8 M 893.2,864.8 L 893.2,901.1 L 902.1,901.1 C 908.4,901.1 911.1,896.7 911.1,891.3 C 911.1,885.5 908.4,882.2 902.1,882.2 L 893.2,882.2 M 901.3,882.2 C 906.6,882.2 909.3,878.6 909.3,873.5 C 909.3,867.7 906.6,864.8 901.3,864.8 L 893.2,864.8 M 926.7,864.8 L 926.7,901.1 L 944.6,901.1 M 974.6,864.8 L 955.4,864.8 L 955.4,901.1 L 974.6,901.1 M 955.4,883.0 L 971.7,883.0"/>
<path class="g" style="stroke-width:7.4" d="M 1225.5,792.4 L 1209.0,792.4 L 1209.0,830.1 M 1209.0,811.2 L 1222.5,811.2 M 1235.7,830.1 L 1247.7,792.4 L 1259.7,830.1 M 1240.5,817.3 L 1254.9,817.3 M 1289.7,798.4 C 1287.4,793.9 1284.3,792.4 1281.3,792.4 C 1274.7,792.4 1270.5,801.4 1270.5,811.2 C 1270.5,821.8 1274.7,830.1 1281.3,830.1 C 1284.7,830.1 1287.4,828.2 1289.7,824.1 M 1301.2,792.4 L 1327.3,792.4 M 1314.2,792.4 L 1314.2,830.1"/>
<path class="g" style="stroke-width:7.4" d="M 1195.3,864.8 L 1215.3,864.8 M 1205.3,864.8 L 1205.3,901.1 M 1222.7,901.1 L 1234.3,864.8 L 1246.0,901.1 M 1227.4,888.8 L 1241.3,888.8 M 1259.6,864.8 L 1259.6,901.1 L 1268.5,901.1 C 1274.7,901.1 1277.4,896.7 1277.4,891.3 C 1277.4,885.5 1274.7,882.2 1268.5,882.2 L 1259.6,882.2 M 1267.6,882.2 C 1272.9,882.2 1275.6,878.6 1275.6,873.5 C 1275.6,867.7 1272.9,864.8 1267.6,864.8 L 1259.6,864.8 M 1292.4,864.8 L 1292.4,901.1 L 1311.6,901.1 M 1341.7,864.8 L 1325.2,864.8 L 1325.2,901.1 L 1341.7,901.1 M 1325.2,883.0 L 1339.2,883.0"/>
</g>
</svg>
</body></html>
